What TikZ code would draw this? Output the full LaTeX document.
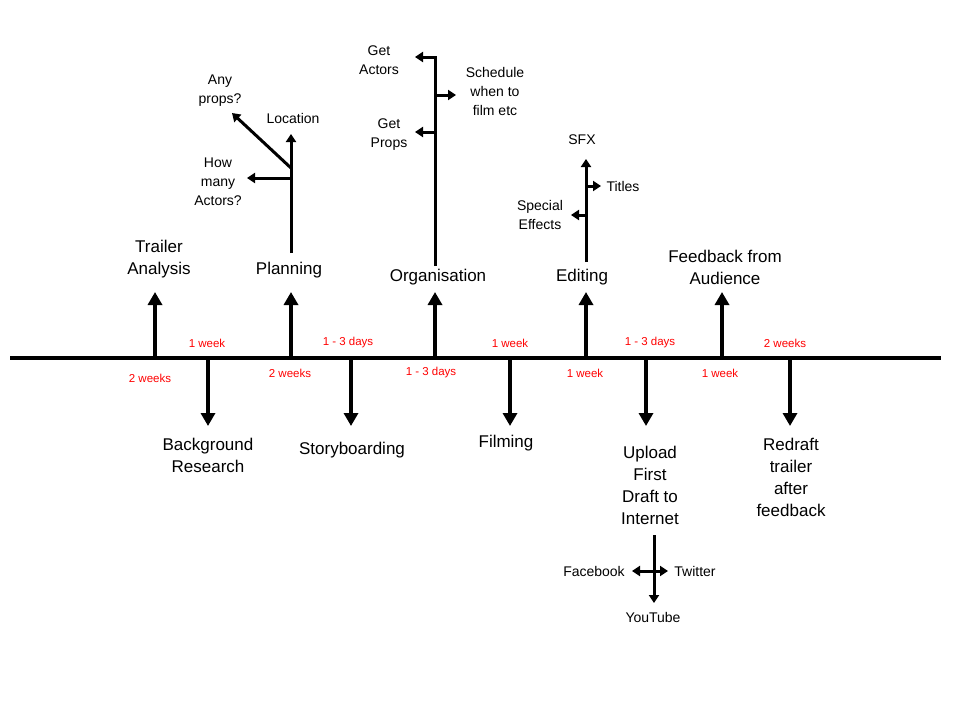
\documentclass[tikz,border=0pt]{standalone}
\usepackage{fontspec}
\setmainfont{Liberation Sans}
\usetikzlibrary{arrows.meta}
\begin{document}
\begin{tikzpicture}[x=1pt,y=-1pt,
 big/.style={line width=3.5pt,-{Triangle[width=14pt,length=13pt]}},
 sm/.style={line width=3pt,-{Triangle[width=10pt,length=8pt]}},
 lbl/.style={align=center,font=\fontsize{17}{22}\selectfont,inner sep=0},
 st/.style={align=center,font=\fontsize{14}{19}\selectfont,inner sep=0},
 rd/.style={text=red,font=\fontsize{11.5}{14}\selectfont,inner sep=0}]
\useasboundingbox[fill=white] (0,0) rectangle (960,720);
\coordinate (L) at (10,358); \coordinate (R) at (941,358);
\draw[line width=3.5pt] (L) -- (R);
% up arrows
\foreach \n/\x in {u1/155,u2/291,u3/435,u4/586,u5/722}{
 \coordinate (\n b) at (\x,358); \coordinate (\n t) at (\x,292);
 \draw[big] (\n b) -- (\n t);}
\foreach \n/\x in {d1/208,d2/351,d3/510,d4/646,d5/790}{
 \coordinate (\n b) at (\x,358); \coordinate (\n t) at (\x,426);
 \draw[big] (\n b) -- (\n t);}
\node[lbl] (ta) at (159,259) {Trailer\\Analysis};
\node[lbl] (pl) at (289,270) {Planning};
\node[lbl] (or) at (438,277) {Organisation};
\node[lbl] (ed) at (582,277) {Editing};
\node[lbl] (fb) at (725,267) {Feedback from\\Audience};
\node[lbl] (br) at (208,455) {Background\\Research};
\node[lbl] (sb) at (352,450) {Storyboarding};
\node[lbl] (fi) at (506,443) {Filming};
\node[lbl] (up) at (650,485) {Upload\\First\\Draft to\\Internet};
\node[lbl] (rt) at (791,477) {Redraft\\trailer\\after\\feedback};
% red
\node[rd] at (207,343) {1 week};
\node[rd] at (150,378) {2 weeks};
\node[rd] at (290,373) {2 weeks};
\node[rd] at (348,343) {1 - 3 days};
\node[rd] at (431,373) {1 - 3 days};
\node[rd] at (510,343) {1 week};
\node[rd] at (585,373) {1 week};
\node[rd] at (650,343) {1 - 3 days};
\node[rd] at (720,373) {1 week};
\node[rd] at (785,343) {2 weeks};
% planning
\coordinate (p0) at (291,253); \coordinate (p1) at (291,178); \coordinate (p2) at (291,168);
\node[st] (loc) at (293,118) {Location};
\node[st] (hma) at (218,182) {How\\many\\Actors?};
\node[st] (ap) at (220,91) {Any\\props?};
\draw[sm] (p0) -- (291,134);
\draw[sm] (p1) -- (247,178);
\draw[sm] (p2) -- (232,113);
% organisation
\node[st] (ga) at (379,60) {Get\\Actors};
\node[st] (sc) at (495,91) {Schedule\\when to\\film etc};
\node[st] (gp) at (389,135) {Get\\Props};
\draw[line width=3pt] (435,266) -- (435,57);
\draw[sm] (436.5,57) -- (415,57);
\draw[sm] (435,95) -- (456,95);
\draw[sm] (435,132) -- (415,132);
% editing
\node[st] (sfx) at (582,140) {SFX};
\node[st] (ti) at (623,186) {Titles};
\node[st] (se) at (540,215) {Special\\Effects};
\draw[sm] (586,262) -- (586,159);
\draw[sm] (586,186) -- (601,186);
\draw[sm] (586,215) -- (571,215);
% upload
\node[st] (fbk) at (594,571) {Facebook};
\node[st] (tw) at (695,571) {Twitter};
\node[st] (yt) at (653,617) {YouTube};
\draw[sm] (654,535) -- (654,603);
\draw[line width=3pt,{Triangle[width=10pt,length=8pt]}-{Triangle[width=10pt,length=8pt]}] (632,571) -- (668,571);
\end{tikzpicture}
\end{document}
